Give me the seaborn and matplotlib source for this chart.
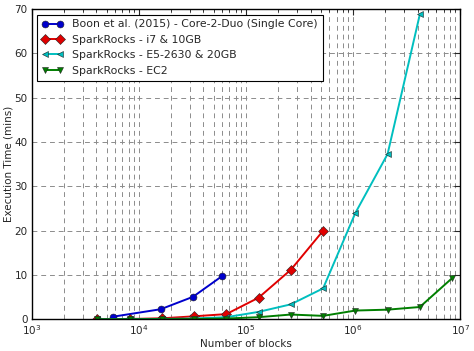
import numpy as np
import pandas as pd
import matplotlib
matplotlib.use("Agg")
import matplotlib.pyplot as plt
import seaborn as sns

sns.set_style("white")
plt.rcParams['font.family'] = ['DejaVu Sans']

boon_x = [5700, 16000, 32000, 60000]
boon_y = [0.6, 2.3, 5.1, 9.8]

i7_x = [4096, 8192, 16384, 32768, 65536, 131072, 262144, 524288]
i7_y = [0.05, 0.1, 0.25, 0.7, 1.2, 4.9, 11.2, 20.0]

e5_x = [4096, 8192, 16384, 32768, 65536, 131072, 262144, 524288, 1048576, 2097152, 4194304]
e5_y = [0.02, 0.05, 0.1, 0.2, 0.5, 1.7, 3.4, 7.0, 24.0, 37.3, 68.8]

ec2_x = [4096, 8192, 16384, 32768, 65536, 131072, 262144, 524288, 1048576, 2097152, 4194304, 8388608]
ec2_y = [0.02, 0.03, 0.05, 0.1, 0.2, 0.5, 1.1, 0.8, 2.0, 2.2, 2.8, 9.3]

series = [
    ("Boon et al. (2015) - Core-2-Duo (Single Core)", boon_x, boon_y, "o", "#0000cc"),
    ("SparkRocks - i7 & 10GB", i7_x, i7_y, "D", "#e00000"),
    ("SparkRocks - E5-2630 & 20GB", e5_x, e5_y, "<", "#00bfbf"),
    ("SparkRocks - EC2", ec2_x, ec2_y, "v", "#007f00"),
]

fig = plt.figure(figsize=(4.74, 3.51), dpi=100)
ax = fig.add_axes([0.067, 0.09, 0.904, 0.884])
ax.set_xscale("log")

for name, xs, ys, mk, col in series:
    df = pd.DataFrame({"x": xs, "y": ys})
    sns.lineplot(data=df, x="x", y="y", ax=ax, color=col, marker=mk,
                 markersize=5, markeredgecolor="#222222", markeredgewidth=0.4,
                 linewidth=1.4, label=name)

ax.set_xlim(1e3, 1e7)
ax.set_ylim(0, 70)
ax.set_yticks([0, 10, 20, 30, 40, 50, 60, 70])
ax.grid(True, which="both", axis="x", color="0.55", linestyle=(0, (5, 4)), linewidth=0.7)
ax.grid(True, which="major", axis="y", color="0.55", linestyle=(0, (5, 4)), linewidth=0.7)
ax.tick_params(which="both", direction="in", top=True, right=True, labelsize=7.5)
ax.tick_params(which="major", length=4, pad=3)
ax.tick_params(which="minor", length=2)
for s in ax.spines.values():
    s.set_color("black")
    s.set_linewidth(1)

ax.set_xlabel("Number of blocks", fontsize=7.5, labelpad=1)
ax.set_ylabel("Execution Time (mins)", fontsize=7.5, labelpad=1)

leg = ax.legend(loc="upper left", fontsize=7.8, fancybox=False, framealpha=1,
                edgecolor="black", numpoints=2, handlelength=2.0,
                borderpad=0.45, labelspacing=0.5)
leg.get_frame().set_linewidth(0.8)

fig.savefig("out.png", dpi=100)
